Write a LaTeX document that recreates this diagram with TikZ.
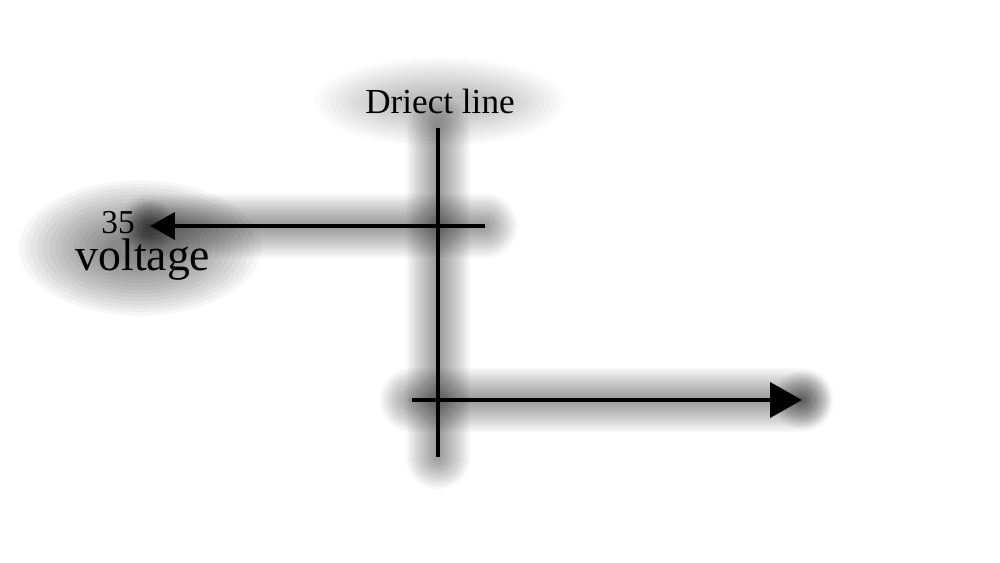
\documentclass[tikz,border=0pt]{standalone}
\usepackage{fontspec}
\setmainfont{Liberation Serif}
\usetikzlibrary{arrows.meta}
\tikzset{
  axisline/.style={line width=4*0.02cm, black},
  glowline/.style={black, opacity=0.028, line cap=round},
  lbl/.style={inner sep=0pt, text=black, anchor=base},
}
\begin{document}
\begin{tikzpicture}[x=0.02cm, y=-0.02cm]
\useasboundingbox (0,0) rectangle (1000,562);
\fill[white] (0,0) rectangle (1000,562);
% coordinates
\coordinate (vt) at (438,128);
\coordinate (vb) at (438,457);
\coordinate (ta) at (485,226);
\coordinate (tb) at (150,226);
\coordinate (ba) at (412,400);
\coordinate (bb) at (802,400);
% text glows
\foreach \r in {1,...,16}{
  \fill[black, opacity=0.035] (140,248) ellipse ({25+6*\r} and {10+3.6*\r});
  \fill[black, opacity=0.014] (440,102) ellipse ({45+5*\r} and {6+2.4*\r});
}
% line glows
\foreach \w in {4,8,...,64}{
  \draw[glowline, line width=\w*0.02cm] (vt) -- (vb);
  \draw[glowline, line width=\w*0.02cm] (ta) -- (tb);
  \draw[glowline, line width=\w*0.02cm] (ba) -- (bb);
  \fill[black, opacity=0.028] (bb) circle ({\w*0.45});
  \fill[black, opacity=0.028] (tb) circle ({\w*0.4});
}
% axes
\draw[axisline] (vt) -- (vb);
\draw[axisline, -{Triangle[length=0.5cm, width=0.54cm]}] (ta) -- (tb);
\draw[axisline, -{Triangle[length=0.64cm, width=0.7cm]}] (ba) -- (bb);
% labels
\node[lbl, font=\fontsize{20}{24}\selectfont] (title) at (440,113) {Driect line};
\node[lbl, font=\fontsize{19}{22}\selectfont] (n35) at (118,233) {35};
\node[lbl, font=\fontsize{26}{30}\selectfont] (volt) at (143,270) {voltage};
\end{tikzpicture}
\end{document}
